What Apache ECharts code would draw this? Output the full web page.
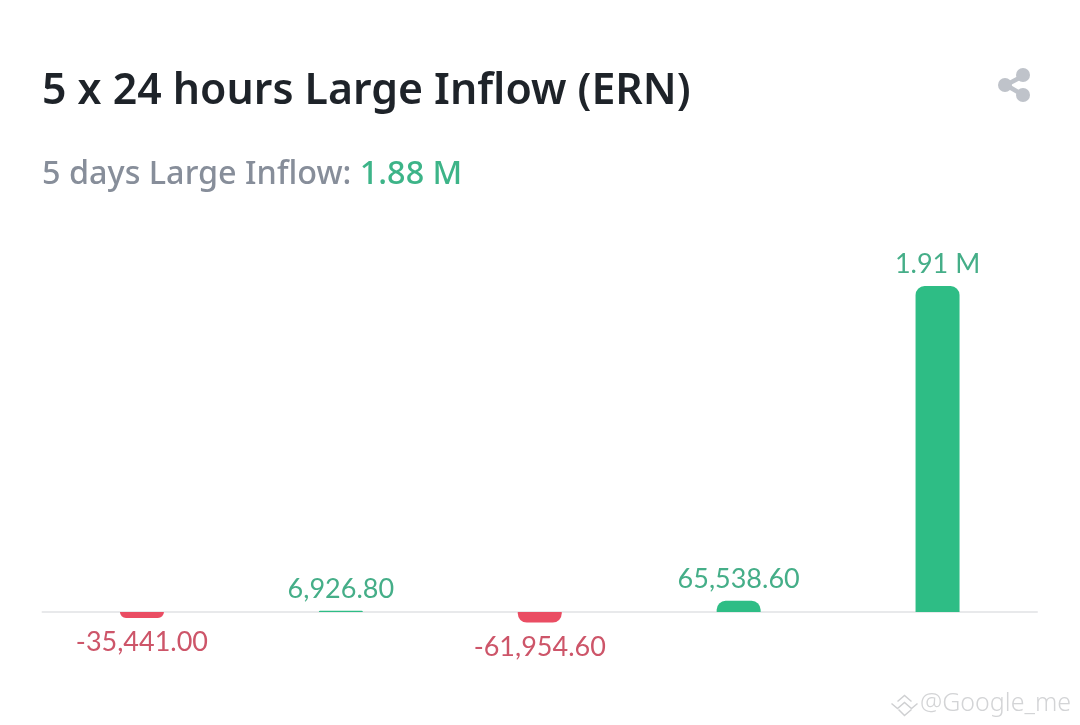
<html>
<head>
    <meta charset="utf-8">
    <title>Large Inflow</title>
    <script src="https://cdn.jsdelivr.net/npm/echarts@6/dist/echarts.min.js"></script>
    <style>
        html, body { margin: 0; padding: 0; background: #fff; }
    </style>
</head>
<body>
    <div id="chartmain" style="width:1080px; height:725px;"></div>

    <script type="text/javascript">
        var days = ['Day 1', 'Day 2', 'Day 3', 'Day 4', 'Day 5'];
        var inflow = [-35441.00, 6926.80, -61954.60, 65538.60, 1910000];
        var titleText = '5 x 24 hours Large Inflow (ERN)';
        var subLabel = '5 days Large Inflow: ';
        var subValue = '1.88 M';

        var green = '#2EBD85';
        var red = '#EA4D63';
        var greenText = '#45AE88';
        var redText = '#CD5569';

        // 1.91 M stays short, everything else gets two decimals
        function fmt(v) {
            if (Math.abs(v) >= 1000000) {
                return (v / 1000000).toFixed(2) + ' M';
            }
            return v.toLocaleString('en-US', { minimumFractionDigits: 2, maximumFractionDigits: 2 });
        }

        var barData = inflow.map(function (v) {
            var up = v >= 0;
            return {
                value: v,
                itemStyle: {
                    color: up ? green : red,
                    borderRadius: up ? [9, 9, 0, 0] : [0, 0, 9, 9]
                },
                label: {
                    position: up ? 'top' : 'bottom',
                    color: up ? greenText : redText,
                    distance: up ? 8 : 11
                }
            };
        });

        var myChart = echarts.init(document.getElementById('chartmain'));
        myChart.setOption({
            backgroundColor: '#ffffff',
            animation: false,
            title: [{
                text: titleText,
                left: 42,
                top: 70,
                padding: 0,
                textStyle: {
                    fontFamily: 'Noto Sans',
                    fontSize: 42.8,
                    fontWeight: 600,
                    color: '#1E2329'
                }
            }, {
                text: '{a|' + subLabel + '}{b|' + subValue + '}',
                left: 42,
                top: 159,
                padding: 0,
                textStyle: {
                    rich: {
                        a: { fontFamily: 'Noto Sans', fontSize: 32.4, fontWeight: 500, color: '#878E9A' },
                        b: { fontFamily: 'Noto Sans', fontSize: 32.4, fontWeight: 500, color: '#3DB488' }
                    }
                }
            }],
            grid: { left: 42.5, top: 286, width: 994.5, height: 411.3 },
            xAxis: {
                type: 'category',
                data: days,
                axisLine: { lineStyle: { color: '#E8E9EB', width: 2 } },
                axisTick: { show: false },
                axisLabel: { show: false }
            },
            yAxis: {
                type: 'value',
                min: -500000,
                max: 1910000,
                show: false,
                splitLine: { show: false }
            },
            series: [{
                type: 'bar',
                data: barData,
                barWidth: 44,
                label: {
                    show: true,
                    fontFamily: 'Lato',
                    fontSize: 27,
                    formatter: function (p) { return fmt(p.value); }
                }
            }],
            graphic: [{
                // share icon
                type: 'group',
                left: 998,
                top: 68,
                children: [
                    { type: 'line', shape: { x1: 25, y1: 8, x2: 8, y2: 17 }, style: { stroke: '#BFC3CA', lineWidth: 4.5 } },
                    { type: 'line', shape: { x1: 25, y1: 27, x2: 8, y2: 17 }, style: { stroke: '#BFC3CA', lineWidth: 4.5 } },
                    { type: 'circle', shape: { cx: 25, cy: 7, r: 7 }, style: { fill: '#BFC3CA' } },
                    { type: 'circle', shape: { cx: 7, cy: 17, r: 7 }, style: { fill: '#BFC3CA' } },
                    { type: 'circle', shape: { cx: 25, cy: 27, r: 7 }, style: { fill: '#BFC3CA' } }
                ]
            }, {
                type: 'text',
                left: 920,
                top: 691,
                style: {
                    text: '@Google_me',
                    fontFamily: 'Noto Sans',
                    fontSize: 25,
                    fontWeight: 300,
                    fill: '#D3D4D6'
                }
            }, {
                // watermark logo
                type: 'group',
                left: 889,
                top: 693,
                children: [
                    { type: 'polyline', shape: { points: [[0, 9], [6, 14], [13, 8], [20, 14], [26, 9]] }, style: { fill: 'none', stroke: '#CFD0D2', lineWidth: 1.5 } },
                    { type: 'polyline', shape: { points: [[7, 15], [13, 21], [20, 15]] }, style: { fill: 'none', stroke: '#CFD0D2', lineWidth: 1.5 } },
                    { type: 'polyline', shape: { points: [[6, 7], [13, 1], [20, 7]] }, style: { fill: 'none', stroke: '#CFD0D2', lineWidth: 1.5 } }
                ]
            }]
        });
    </script>
</body>
</html>
